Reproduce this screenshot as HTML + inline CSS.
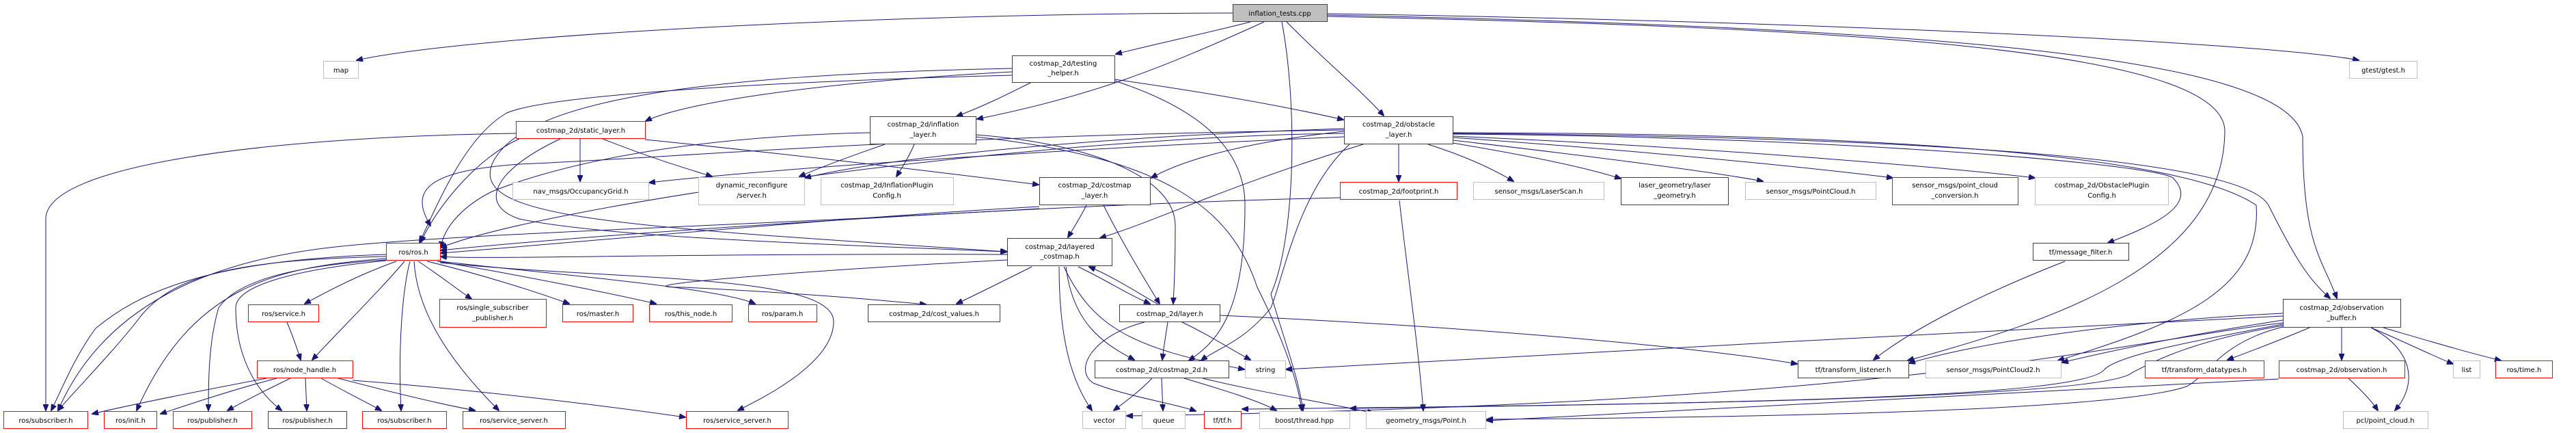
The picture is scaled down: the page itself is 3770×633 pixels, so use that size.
<!DOCTYPE html>
<html><head><meta charset="utf-8"><style>
html,body{margin:0;padding:0;background:#fff;}
svg{display:block;}
text{font-family:"DejaVu Sans","Liberation Sans",sans-serif;font-size:10px;fill:#000;text-anchor:middle;}
.e{fill:none;stroke:#191970;stroke-width:1;marker-end:url(#a);}
.k{fill:#fff;stroke:#404040;stroke-width:1;}
.r{fill:#fff;stroke:#ff0000;stroke-width:1;}
.g{fill:#fff;stroke:#bfbfbf;stroke-width:1;}
</style></head><body>
<svg width="3770" height="633" viewBox="0 0 3770 633" xmlns="http://www.w3.org/2000/svg">
<defs><marker id="a" markerWidth="10" markerHeight="8" refX="9" refY="4" orient="auto" markerUnits="userSpaceOnUse"><path d="M0,0 L10,4 L0,8 Z" fill="#191970" stroke="#191970"/></marker></defs>
<g>
<path class="e" d="M1804,19 C1300,20 700,50 522,88"/>
<path class="e" d="M1943,20 C2600,30 3300,60 3452,88"/>
<path class="e" d="M1830,32 C1760,50 1700,62 1633,79"/>
<path class="e" d="M1850,32 C1700,100 1600,140 1430,174"/>
<path class="e" d="M1883,32 C1940,90 1990,130 2025,169"/>
<path class="e" d="M1876,32 C1900,160 1895,350 1860,430 C1880,500 1900,550 1907,600"/>
<path class="e" d="M1943,22 C2800,40 3350,80 3370,200 C3370,360 3400,380 3420,436"/>
<path class="e" d="M1943,24 C2700,40 3250,70 3256,190 C3256,390 3000,470 2792,527"/>
<path class="e" d="M1481,105 C1200,120 1000,150 945,177"/>
<path class="e" d="M1510,120 C1470,140 1440,155 1400,170"/>
<path class="e" d="M1631,116 C1800,140 1900,160 1966,175"/>
<path class="e" d="M1631,118 C1760,160 1822,220 1822,300 C1822,460 1780,500 1740,527"/>
<path class="e" d="M1481,110 C1100,120 800,140 742,165 C680,200 640,300 614,354"/>
<path class="e" d="M1481,100 C1000,110 760,150 720,240 C690,320 900,330 1474,368"/>
<path class="e" d="M760,203 C700,230 640,300 616,354"/>
<path class="e" d="M849,203 L849,265"/>
<path class="e" d="M882,203 C950,230 1000,245 1042,258"/>
<path class="e" d="M944,204 C1200,230 1400,255 1520,270"/>
<path class="e" d="M820,203 C720,250 700,300 760,320 C900,350 1300,360 1473,368"/>
<path class="e" d="M755,195 C400,200 67,240 67,320 L67,600"/>
<path class="e" d="M1273,194 C1000,200 820,240 720,280 C680,300 650,330 645,362"/>
<path class="e" d="M1295,211 C1240,230 1200,245 1170,258"/>
<path class="e" d="M1338,211 C1330,230 1320,245 1312,258"/>
<path class="e" d="M1428,197 C1600,210 1720,260 1720,330 C1720,400 1718,420 1717,444"/>
<path class="e" d="M1428,200 C1700,230 1800,300 1840,420 C1880,500 1900,560 1905,600"/>
<path class="e" d="M2047,211 L2047,265"/>
<path class="e" d="M2090,211 C2150,230 2190,250 2215,265"/>
<path class="e" d="M2126,209 C2250,230 2320,245 2372,261"/>
<path class="e" d="M2126,205 C2300,225 2500,250 2580,265"/>
<path class="e" d="M2126,201 C2400,220 2650,245 2770,260"/>
<path class="e" d="M2126,199 C2500,215 2850,245 2978,260"/>
<path class="e" d="M2126,196 C2700,200 3150,240 3180,260 C3220,300 3150,330 3085,355"/>
<path class="e" d="M2126,195 C2800,200 3280,230 3320,300 C3360,380 3380,410 3410,436"/>
<path class="e" d="M2126,194 C2800,195 3200,230 3302,300 C3310,420 3200,470 3012,527"/>
<path class="e" d="M1967,192 C1800,210 1720,240 1685,260"/>
<path class="e" d="M1995,211 C1800,270 1700,320 1610,348"/>
<path class="e" d="M1967,188 C1600,200 1300,230 1178,260"/>
<path class="e" d="M1967,200 C1500,220 1100,250 950,267"/>
<path class="e" d="M1967,195 C1500,200 800,300 645,362"/>
<path class="e" d="M1975,211 C1900,280 1880,400 1860,450 C1820,500 1780,510 1758,527"/>
<path class="e" d="M1967,190 C1300,200 1000,230 760,240 C620,250 600,280 630,330"/>
<path class="e" d="M1961,289 C1500,300 900,340 645,366"/>
<path class="e" d="M2048,293 C2060,400 2075,500 2083,600"/>
<path class="e" d="M1590,300 C1580,320 1570,335 1563,347"/>
<path class="e" d="M1615,300 C1640,350 1670,400 1697,444"/>
<path class="e" d="M1521,302 C1200,320 900,350 645,370"/>
<path class="e" d="M1521,305 C1100,330 700,340 500,360 C300,380 150,450 85,600"/>
<path class="e" d="M1510,390 C1470,410 1430,430 1400,444"/>
<path class="e" d="M1578,390 C1620,410 1650,430 1683,444"/>
<path class="e" d="M1695,445 C1660,425 1630,405 1594,390"/>
<path class="e" d="M1560,390 C1570,470 1610,500 1660,526"/>
<path class="e" d="M1550,390 C1550,500 1570,560 1598,600"/>
<path class="e" d="M1557,390 C1600,480 1660,510 1821,540"/>
<path class="e" d="M1474,372 C1000,370 700,380 645,375"/>
<path class="e" d="M1474,380 C1100,400 900,420 1000,420 C1200,430 1300,440 1355,445"/>
<path class="e" d="M1709,471 C1706,490 1703,510 1701,526"/>
<path class="e" d="M1730,471 C1770,490 1800,510 1830,526"/>
<path class="e" d="M1675,471 C1600,490 1570,540 1600,560 C1650,580 1720,590 1750,601"/>
<path class="e" d="M1785,461 C2200,480 2500,510 2630,532"/>
<path class="e" d="M1686,553 C1670,570 1650,585 1630,600"/>
<path class="e" d="M1700,553 L1702,600"/>
<path class="e" d="M1733,553 C1790,570 1840,585 1868,600"/>
<path class="e" d="M1760,553 C1850,575 1950,590 2010,604"/>
<path class="e" d="M3022,382 C2900,430 2800,480 2742,526"/>
<path class="e" d="M3380,479 C3330,500 3290,515 3260,526"/>
<path class="e" d="M3427,479 L3427,526"/>
<path class="e" d="M3470,479 C3530,510 3540,560 3505,600"/>
<path class="e" d="M3470,479 C3520,500 3560,520 3590,532"/>
<path class="e" d="M3488,479 C3560,500 3610,515 3660,527"/>
<path class="e" d="M3341,458 C3100,470 2900,500 2794,531"/>
<path class="e" d="M3341,468 C3200,490 3100,510 3018,530"/>
<path class="e" d="M3341,462 C3000,480 2200,520 1882,540"/>
<path class="e" d="M3341,474 C3200,500 3100,520 3080,540 C3050,580 2600,590 1818,598"/>
<path class="e" d="M3341,476 C3200,500 3150,530 3120,545 C3080,580 2500,590 1976,597"/>
<path class="e" d="M3341,478 C3250,500 3230,550 3200,565 C3100,600 2600,610 2176,613"/>
<path class="e" d="M3341,472 C3100,500 2800,590 1649,608"/>
<path class="e" d="M3437,553 C3455,570 3470,585 3480,600"/>
<path class="e" d="M3335,554 C3000,570 2600,590 2176,615"/>
<path class="e" d="M580,382 C530,400 490,420 446,444"/>
<path class="e" d="M592,382 C560,420 500,480 457,526"/>
<path class="e" d="M565,372 C300,380 200,430 140,480 C110,520 90,570 75,600"/>
<path class="e" d="M565,375 C350,380 250,400 200,470 C160,520 120,560 85,600"/>
<path class="e" d="M565,378 C400,390 280,420 200,600"/>
<path class="e" d="M565,380 C400,390 340,420 320,450 C305,500 305,560 305,600"/>
<path class="e" d="M565,381 C420,395 345,420 345,450 C345,500 360,560 412,600"/>
<path class="e" d="M600,382 C590,420 582,500 587,600"/>
<path class="e" d="M606,382 C610,450 650,520 730,600"/>
<path class="e" d="M612,382 C640,400 665,420 690,437"/>
<path class="e" d="M625,382 C700,400 780,425 833,444"/>
<path class="e" d="M640,382 C750,400 900,430 960,444"/>
<path class="e" d="M644,382 C800,400 1050,420 1105,444"/>
<path class="e" d="M644,384 C900,410 1220,400 1220,470 C1220,530 1120,580 1080,600"/>
<path class="e" d="M420,471 C428,490 435,510 440,526"/>
<path class="e" d="M390,553 C300,570 200,590 135,605"/>
<path class="e" d="M405,553 C340,570 280,590 235,605"/>
<path class="e" d="M425,553 C390,570 360,585 333,600"/>
<path class="e" d="M447,553 L449,600"/>
<path class="e" d="M470,553 C500,570 530,585 558,600"/>
<path class="e" d="M495,553 C560,570 640,590 695,600"/>
<path class="e" d="M516,556 C700,570 900,595 1003,610"/>
</g>
<g>
<rect x="1804.5" y="6.5" width="138" height="25" fill="#bfbfbf" stroke="#404040"/><text x="1873" y="23">inflation_tests.cpp</text>
<rect class="g" x="473.5" y="89.5" width="51" height="25"/><text x="499" y="106">map</text>
<rect class="g" x="3438.5" y="89.5" width="99" height="25"/><text x="3488" y="106">gtest/gtest.h</text>
<rect class="k" x="1481.5" y="81.5" width="150" height="39"/><text x="1556" y="96">costmap_2d/testing</text><text x="1556" y="110">_helper.h</text>
<rect class="r" x="755.5" y="177.5" width="189" height="25"/><text x="850" y="194">costmap_2d/static_layer.h</text>
<rect class="k" x="1273.5" y="170.5" width="155" height="40"/><text x="1351" y="185">costmap_2d/inflation</text><text x="1351" y="200">_layer.h</text>
<rect class="k" x="1967.5" y="170.5" width="159" height="40"/><text x="2047" y="185">costmap_2d/obstacle</text><text x="2047" y="200">_layer.h</text>
<rect class="g" x="750.5" y="266.5" width="199" height="25"/><text x="850" y="283">nav_msgs/OccupancyGrid.h</text>
<rect class="g" x="1022.5" y="259.5" width="155" height="40"/><text x="1100" y="274">dynamic_reconfigure</text><text x="1100" y="289">/server.h</text>
<rect class="g" x="1201.5" y="259.5" width="194" height="40"/><text x="1298" y="274">costmap_2d/InflationPlugin</text><text x="1298" y="289">Config.h</text>
<rect class="k" x="1521.5" y="259.5" width="162" height="40"/><text x="1602" y="274">costmap_2d/costmap</text><text x="1602" y="289">_layer.h</text>
<rect class="r" x="1961.5" y="266.5" width="171" height="25"/><text x="2047" y="283">costmap_2d/footprint.h</text>
<rect class="g" x="2156.5" y="266.5" width="191" height="25"/><text x="2252" y="283">sensor_msgs/LaserScan.h</text>
<rect class="k" x="2372.5" y="259.5" width="157" height="40"/><text x="2451" y="274">laser_geometry/laser</text><text x="2451" y="289">_geometry.h</text>
<rect class="g" x="2554.5" y="266.5" width="191" height="25"/><text x="2650" y="283">sensor_msgs/PointCloud.h</text>
<rect class="r" x="2769.5" y="259.5" width="184" height="40"/><text x="2861" y="274">sensor_msgs/point_cloud</text><text x="2861" y="289">_conversion.h</text>
<rect class="g" x="2978.5" y="259.5" width="195" height="40"/><text x="3076" y="274">costmap_2d/ObstaclePlugin</text><text x="3076" y="289">Config.h</text>
<rect class="r" x="565.5" y="355.5" width="79" height="25"/><text x="605" y="372">ros/ros.h</text>
<rect class="k" x="1474.5" y="348.5" width="153" height="40"/><text x="1551" y="364">costmap_2d/layered</text><text x="1551" y="378">_costmap.h</text>
<rect class="k" x="2975.5" y="355.5" width="140" height="25"/><text x="3045" y="372">tf/message_filter.h</text>
<rect class="r" x="363.5" y="445.5" width="103" height="25"/><text x="415" y="462">ros/service.h</text>
<rect class="r" x="643.5" y="437.5" width="156" height="41"/><text x="721" y="453">ros/single_subscriber</text><text x="721" y="468">_publisher.h</text>
<rect class="r" x="823.5" y="445.5" width="103" height="25"/><text x="875" y="462">ros/master.h</text>
<rect class="r" x="950.5" y="445.5" width="121" height="25"/><text x="1011" y="462">ros/this_node.h</text>
<rect class="r" x="1095.5" y="445.5" width="100" height="25"/><text x="1145" y="462">ros/param.h</text>
<rect class="k" x="1270.5" y="445.5" width="193" height="25"/><text x="1367" y="462">costmap_2d/cost_values.h</text>
<rect class="k" x="1638.5" y="445.5" width="147" height="25"/><text x="1712" y="462">costmap_2d/layer.h</text>
<rect class="k" x="3341.5" y="437.5" width="172" height="41"/><text x="3427" y="453">costmap_2d/observation</text><text x="3427" y="468">_buffer.h</text>
<rect class="r" x="376.5" y="527.5" width="140" height="25"/><text x="446" y="544">ros/node_handle.h</text>
<rect class="k" x="1602.5" y="527.5" width="196" height="25"/><text x="1700" y="544">costmap_2d/costmap_2d.h</text>
<rect class="g" x="1822.5" y="527.5" width="59" height="25"/><text x="1852" y="544">string</text>
<rect class="k" x="2631.5" y="527.5" width="162" height="25"/><text x="2712" y="544">tf/transform_listener.h</text>
<rect class="g" x="2818.5" y="527.5" width="198" height="25"/><text x="2917" y="544">sensor_msgs/PointCloud2.h</text>
<rect class="r" x="3139.5" y="527.5" width="174" height="25"/><text x="3226" y="544">tf/transform_datatypes.h</text>
<rect class="r" x="3335.5" y="527.5" width="184" height="25"/><text x="3427" y="544">costmap_2d/observation.h</text>
<rect class="g" x="3590.5" y="527.5" width="39" height="25"/><text x="3610" y="544">list</text>
<rect class="r" x="3652.5" y="527.5" width="83" height="25"/><text x="3694" y="544">ros/time.h</text>
<rect class="r" x="5.5" y="601.5" width="123" height="25"/><text x="67" y="618">ros/subscriber.h</text>
<rect class="r" x="152.5" y="601.5" width="77" height="25"/><text x="191" y="618">ros/init.h</text>
<rect class="r" x="253.5" y="601.5" width="115" height="25"/><text x="311" y="618">ros/publisher.h</text>
<rect class="k" x="392.5" y="601.5" width="115" height="25"/><text x="450" y="618">ros/publisher.h</text>
<rect class="r" x="530.5" y="601.5" width="123" height="25"/><text x="592" y="618">ros/subscriber.h</text>
<rect class="r" x="677.5" y="601.5" width="150" height="25"/><text x="752" y="618">ros/service_server.h</text>
<rect class="r" x="1004.5" y="601.5" width="149" height="25"/><text x="1079" y="618">ros/service_server.h</text>
<rect class="g" x="1584.5" y="601.5" width="63" height="25"/><text x="1616" y="618">vector</text>
<rect class="g" x="1671.5" y="601.5" width="63" height="25"/><text x="1703" y="618">queue</text>
<rect class="r" x="1762.5" y="601.5" width="54" height="25"/><text x="1789" y="618">tf/tf.h</text>
<rect class="g" x="1843.5" y="601.5" width="132" height="25"/><text x="1909" y="618">boost/thread.hpp</text>
<rect class="g" x="1999.5" y="601.5" width="175" height="25"/><text x="2087" y="618">geometry_msgs/Point.h</text>
<rect class="g" x="3429.5" y="601.5" width="124" height="25"/><text x="3491" y="618">pcl/point_cloud.h</text>
</g>
</svg>
</body></html>
